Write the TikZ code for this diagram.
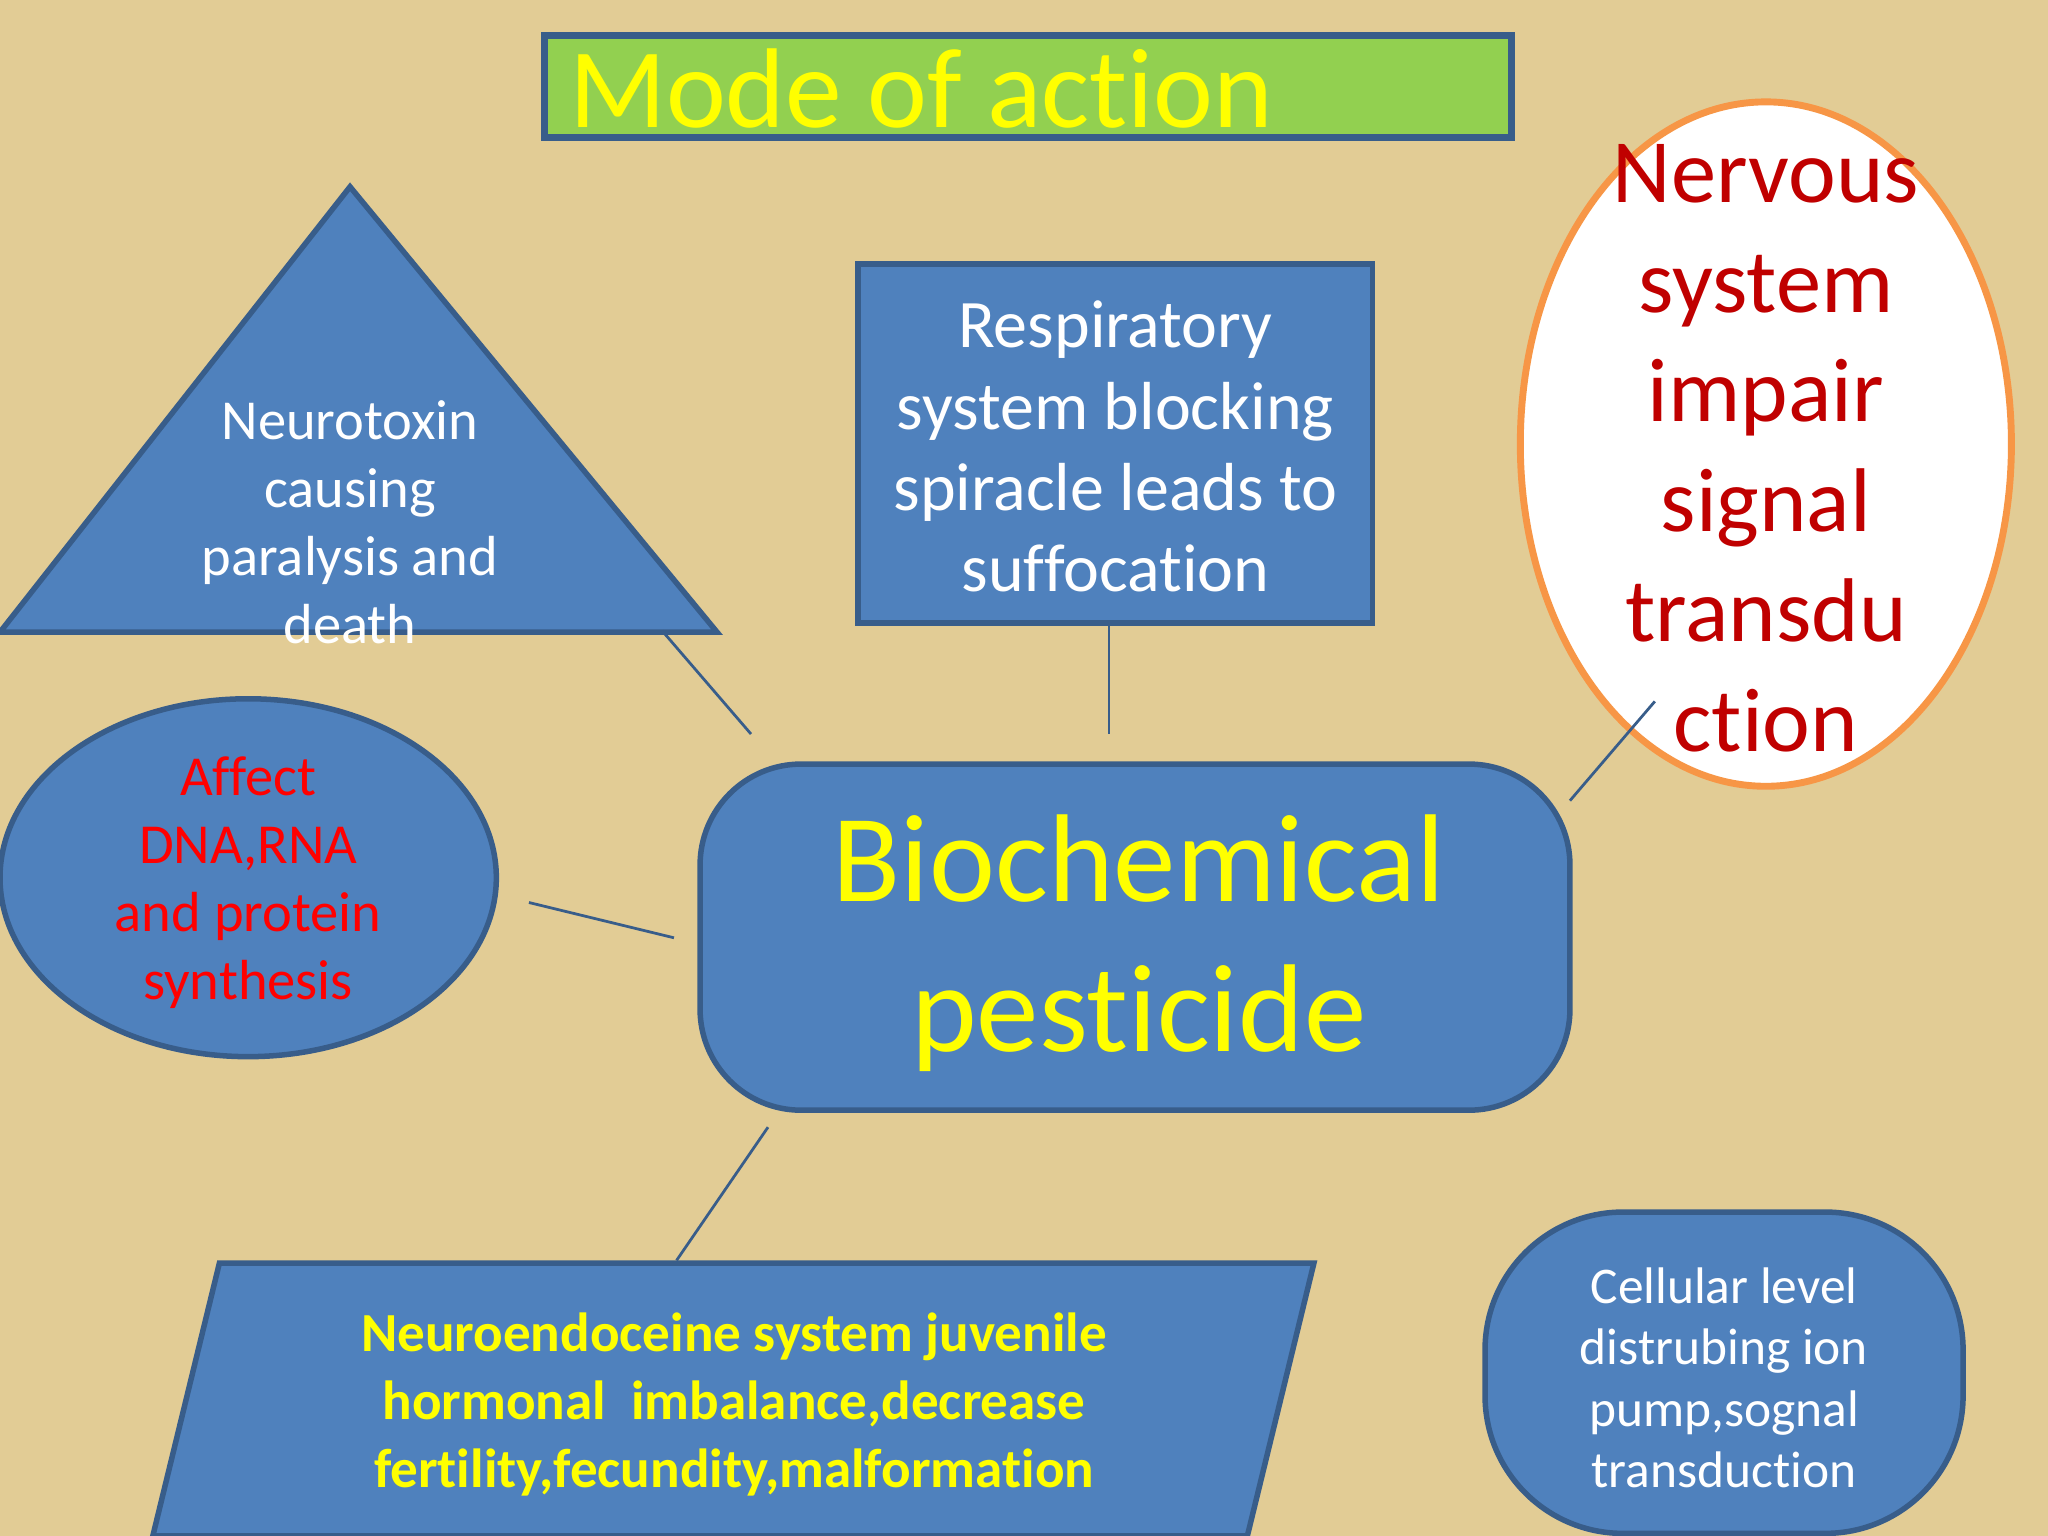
\documentclass[tikz,border=0pt]{standalone}
\usepackage{fontspec}
\setmainfont{Carlito}[Ligatures={NoCommon,NoRare,NoContextual}]
\usetikzlibrary{shapes.geometric}
\definecolor{bg}{HTML}{E2CC95}
\definecolor{bl}{HTML}{4F81BD}
\definecolor{bd}{HTML}{385D8A}
\definecolor{ye}{HTML}{FFFF00}
\definecolor{gr}{HTML}{92D050}
\definecolor{dr}{HTML}{C00000}
\definecolor{or}{HTML}{F79646}
\tikzset{blue shape/.style={fill=bl,draw=bd,line width=1.2pt},
  conn/.style={draw=bd,line width=0.6pt}}
\begin{document}
\begin{tikzpicture}[x=0.01cm,y=-0.01cm]
\fill[bg] (0,0) rectangle (1568,1176);
\useasboundingbox (0,0) rectangle (1568,1176);
% title
\draw[fill=gr,draw=bd,line width=1.5pt] (417,27) rectangle (1157,105);
\node[anchor=west,text=ye,font=\fontsize{24.7}{27}\selectfont,inner sep=0] (tt) at (435,68) {Mode of action};
% triangle
\draw[blue shape] (268,143) -- (549,484) -- (0,484) -- cycle;
\node[text=white,align=center,font=\fontsize{12.3}{14.8}\selectfont] (tri) at (268,400) {Neurotoxin\\causing\\paralysis and\\death};
% respiratory
\draw[blue shape] (657,202) rectangle (1051,477);
\node[text=white,align=center,font=\fontsize{14.8}{17.7}\selectfont] (resp) at (854,342) {Respiratory\\system blocking\\spiracle leads to\\suffocation};
% nervous ellipse
\draw[fill=white,draw=or,line width=1.5pt] (1352,340) ellipse [x radius=188,y radius=262];
\node[text=dr,align=center,font=\fontsize{19.7}{23.9}\selectfont] (nerv) at (1352,343) {Nervous\\system\\impair\\signal\\transdu\\ction};
% affect ellipse
\draw[blue shape] (190,672) ellipse [x radius=190,y radius=137];
\node[text=red,align=center,font=\fontsize{12.3}{14.8}\selectfont] (aff) at (190,676) {Affect\\DNA,RNA\\and protein\\synthesis};
% biochemical
\draw[blue shape,rounded corners=22] (536,585) rectangle (1202,850);
\node[text=ye,align=center,font=\fontsize{27.2}{32.7}\selectfont] (bio) at (872,722) {Biochemical\\pesticide};
% parallelogram
\draw[blue shape] (168,967) -- (1006,967) -- (955,1176) -- (117,1176) -- cycle;
\node[text=ye,align=center,font=\bfseries\fontsize{12}{14.8}\selectfont] (neu) at (562,1075) {Neuroendoceine system juvenile\\hormonal\ \ imbalance,decrease\\fertility,fecundity,malformation};
% cellular
\draw[blue shape,rounded corners=30] (1137,928) rectangle (1503,1174);
\node[text=white,align=center,font=\fontsize{11.2}{13.4}\selectfont] (cel) at (1320,1055) {Cellular level\\distrubing ion\\pump,sognal\\transduction};
% connectors
\coordinate (a1) at (507,483); \coordinate (a2) at (575,562);
\coordinate (b1) at (849,477); \coordinate (b2) at (849,562);
\coordinate (c1) at (1267,537); \coordinate (c2) at (1202,613);
\coordinate (d1) at (405,691); \coordinate (d2) at (516,718);
\coordinate (e1) at (588,863); \coordinate (e2) at (518,965);
\draw[conn] (a1) -- (a2);
\draw[conn] (b1) -- (b2);
\draw[conn] (c1) -- (c2);
\draw[conn] (d1) -- (d2);
\draw[conn] (e1) -- (e2);
\end{tikzpicture}
\end{document}
